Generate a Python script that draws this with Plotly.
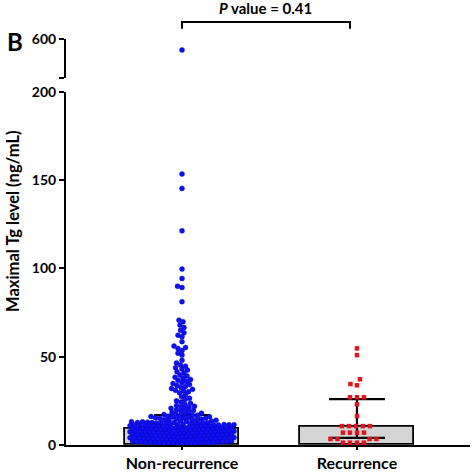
import numpy as np
import plotly.graph_objects as go

# Data
groups = ['Non-recurrence', 'Recurrence']

non_recurrence = [
    # tail
    572, 153.4, 145.3, 121.3, 99.6, 94.3, 89.9, 89.2, 81.1, 70.7, 69.8, 67.9, 66.5, 65.0,
    63.5, 62.2, 61.3, 58.5, 56.0, 55.2, 54.7, 53.5, 52.0, 50.9, 48.0, 46.5, 45.3, 44.6,
    43.8, 43.0, 42.4, 41.5, 40.8, 39.6, 39.0, 38.4, 37.8, 37.1, 36.6, 36.0, 35.4, 34.8,
    34.2, 33.7, 33.1, 32.6, 32.0, 31.5, 31.0, 30.6, 30.2,
    # 17-30
    29.6, 28.4, 27.4, 26.5, 25.7, 25.0, 24.3, 23.6, 23.0, 22.4, 21.9, 21.3, 20.8, 20.3,
    19.9, 19.5, 19.1, 18.7, 18.4, 18.0, 17.7, 17.4, 17.2, 21.6,
    # 13-17
    16.9, 16.7, 16.5, 16.3, 16.1, 15.9, 15.7, 15.5, 15.3, 15.1, 14.9, 14.7, 14.5, 14.3,
    14.1, 13.9, 13.7, 13.5, 13.3, 13.1, 16.0, 15.0, 14.0, 13.2,
    # 2-13
    12.9, 12.7, 12.6, 12.4, 12.3, 12.1, 12.0, 12.8, 12.5, 12.2, 12.7,
    11.9, 11.8, 11.6, 11.5, 11.3, 11.2, 11.0, 11.7, 11.4, 11.1, 11.6, 11.3,
    10.9, 10.8, 10.6, 10.5, 10.3, 10.2, 10.0, 10.7, 10.4, 10.1, 10.6, 10.2,
    9.9, 9.8, 9.7, 9.5, 9.4, 9.3, 9.1, 9.0, 9.6, 9.4, 9.2, 9.6, 9.3,
    8.9, 8.8, 8.6, 8.5, 8.4, 8.2, 8.1, 8.0, 8.7, 8.5, 8.3, 8.6, 8.3,
    7.9, 7.7, 7.6, 7.5, 7.4, 7.2, 7.1, 7.0, 7.8, 7.6, 7.3, 7.7, 7.2,
    6.9, 6.8, 6.7, 6.6, 6.4, 6.3, 6.1, 6.0, 6.7, 6.5, 6.2, 6.5, 6.0,
    5.9, 5.8, 5.7, 5.6, 5.5, 5.3, 5.2, 5.0, 5.7, 5.4, 5.1, 5.6, 5.1,
    4.9, 4.8, 4.7, 4.6, 4.4, 4.3, 4.1, 4.0, 4.7, 4.5, 4.2, 4.6, 4.3,
    3.9, 3.8, 3.6, 3.5, 3.3, 3.2, 3.0, 3.7, 3.4, 3.1, 3.5, 3.0,
    2.9, 2.8, 2.7, 2.5, 2.4, 2.3, 2.1, 2.0, 2.6, 2.2, 2.7,
    # 0-2
    1.9, 1.8, 1.7, 1.6, 1.5, 1.4, 1.3, 1.2, 1.1, 1.0, 0.9, 0.8, 0.7, 0.6, 0.5,
    1.9, 1.6, 1.3, 1.0, 0.7,
]

recurrence = [
    54.7, 50.9, 37.2, 34.5, 33.8, 27.0, 27.0, 27.0, 23.0, 16.4, 10.7, 10.7, 10.7, 10.7,
    10.7, 7.0, 7.0, 7.0, 7.0, 3.4, 3.4, 3.4, 3.4, 1.3, 1.3, 1.3, 1.3,
]

bar_height = [9.0, 10.4]
err_low = [4.5, 4.0]
err_high = [17.0, 26.0]

p_text = '<b><i>P</i> value = 0.41</b>'

# axis geometry (pixels) used for the swarm layout
W, H = 474, 474
ML, MR, MT, MB = 66, 4, 39, 29
x_range = [-0.663, 1.646]
low_dom = [0, 0.870]
top_dom = [0.904, 1]
low_range = [0, 200]
top_range = [500, 600]

px_per_x = (W - ML - MR) / (x_range[1] - x_range[0])
px_per_y = (H - MT - MB) * (low_dom[1] - low_dom[0]) / (low_range[1] - low_range[0])


def swarm(values, dist, half_width):
    """simple beeswarm: offsets (px) so dots don't overlap too much"""
    vals = np.asarray(values, dtype=float)
    order = np.argsort(vals, kind='stable')
    ys = np.minimum(vals, low_range[1] + 50) * px_per_y
    cand = np.arange(-half_width, half_width + 0.01, 0.5)
    cand = cand[np.argsort(np.abs(cand), kind='stable')]
    px, py = [], []
    offs = np.zeros(len(vals))
    for i in order:
        y = ys[i]
        x = 0.0
        if px:
            ax, ay = np.array(px), np.array(py)
            near = np.abs(ay - y) < dist
            if near.any():
                dx = cand[:, None] - ax[near][None, :]
                dy = ay[near][None, :] - y
                md = np.sqrt(dx ** 2 + dy ** 2).min(axis=1)
                ok = np.where(md >= dist)[0]
                x = cand[ok[0]] if len(ok) else cand[np.argmax(md)]
        offs[i] = x
        px.append(x)
        py.append(y)
    return offs / px_per_x


fig = go.Figure()

# bars with error bars (drawn under the dots)
fig.add_trace(go.Bar(
    x=[0, 1], y=bar_height, width=0.65,
    marker=dict(color='#d4d4d4', line=dict(color='black', width=1.8)),
    error_y=dict(type='data', symmetric=False,
                 array=[h - b for h, b in zip(err_high, bar_height)],
                 arrayminus=[b - l for b, l in zip(bar_height, err_low)],
                 color='black', thickness=2.2, width=28),
    showlegend=False, hoverinfo='skip'
))

dot_style = dict(color='#1010f2', size=5, line=dict(color='#0000b4', width=0.4))

# Non-recurrence dots
nr = np.array(non_recurrence)
nr_x = swarm(nr, 4.3, 52)
low = nr <= 200
fig.add_trace(go.Scatter(
    x=nr_x[low], y=nr[low], mode='markers', marker=dot_style,
    showlegend=False, cliponaxis=False
))
fig.add_trace(go.Scatter(
    x=nr_x[~low], y=nr[~low], mode='markers', yaxis='y2', marker=dot_style,
    showlegend=False, cliponaxis=False
))

# Recurrence dots
rc = np.array(recurrence)
rc_x = swarm(rc, 6.6, 56)
fig.add_trace(go.Scatter(
    x=rc_x + 1, y=rc, mode='markers',
    marker=dict(color='#e0141e', size=4.5, symbol='square'),
    showlegend=False, cliponaxis=False
))

font_family = 'Lato, Open Sans, sans-serif'
axis_common = dict(showline=True, linecolor='black', linewidth=2, ticks='outside',
                   tickwidth=2, tickcolor='black', showgrid=False,
                   zeroline=False, automargin=False)

fig.update_layout(
    width=W, height=H,
    margin=dict(l=ML, r=MR, t=MT, b=MB, autoexpand=False),
    paper_bgcolor='white', plot_bgcolor='white',
    font=dict(family=font_family, color='black'),
    bargap=0,
    xaxis=dict(range=x_range, tickvals=[0, 1], ticklen=3,
               ticktext=['<b>%s</b>' % g for g in groups], ticklabelstandoff=0,
               tickfont=dict(size=16, color='black'), anchor='y', **axis_common),
    yaxis=dict(domain=low_dom, range=low_range, tickvals=[0, 50, 100, 150, 200],
               ticktext=['<b>%d</b>' % v for v in [0, 50, 100, 150, 200]], ticklen=5,
               tickfont=dict(size=14, color='black'), anchor='x', **axis_common),
    yaxis2=dict(domain=top_dom, range=top_range, tickvals=top_range,
                ticktext=['', '<b>600</b>'], ticklen=5,
                tickfont=dict(size=14, color='black'), anchor='x', **axis_common),
)

# significance bracket
fig.add_shape(type='path', xref='x', yref='paper',
              path='M 0,1.025 L 0,1.042 L 0.96,1.042 L 0.96,1.025',
              line=dict(color='black', width=2))
fig.add_annotation(text=p_text, xref='x', yref='paper', x=0.48, y=1.076,
                   xanchor='center', yanchor='middle',
                   showarrow=False, font=dict(size=15, color='black'))

fig.add_annotation(text='<b>Maximal Tg level (ng/mL)</b>', textangle=-90,
                   xref='paper', yref='paper', x=-0.131, y=0.552,
                   xanchor='center', yanchor='middle',
                   showarrow=False, font=dict(size=16.5, color='black'))
fig.add_annotation(text='<b>B</b>', xref='paper', yref='paper', x=-0.126, y=0.993,
                   xanchor='center', yanchor='middle',
                   showarrow=False, font=dict(size=24, color='black'))

fig.write_html("out.html", config={'displayModeBar': False},
               post_script="document.body.style.margin='0';")
